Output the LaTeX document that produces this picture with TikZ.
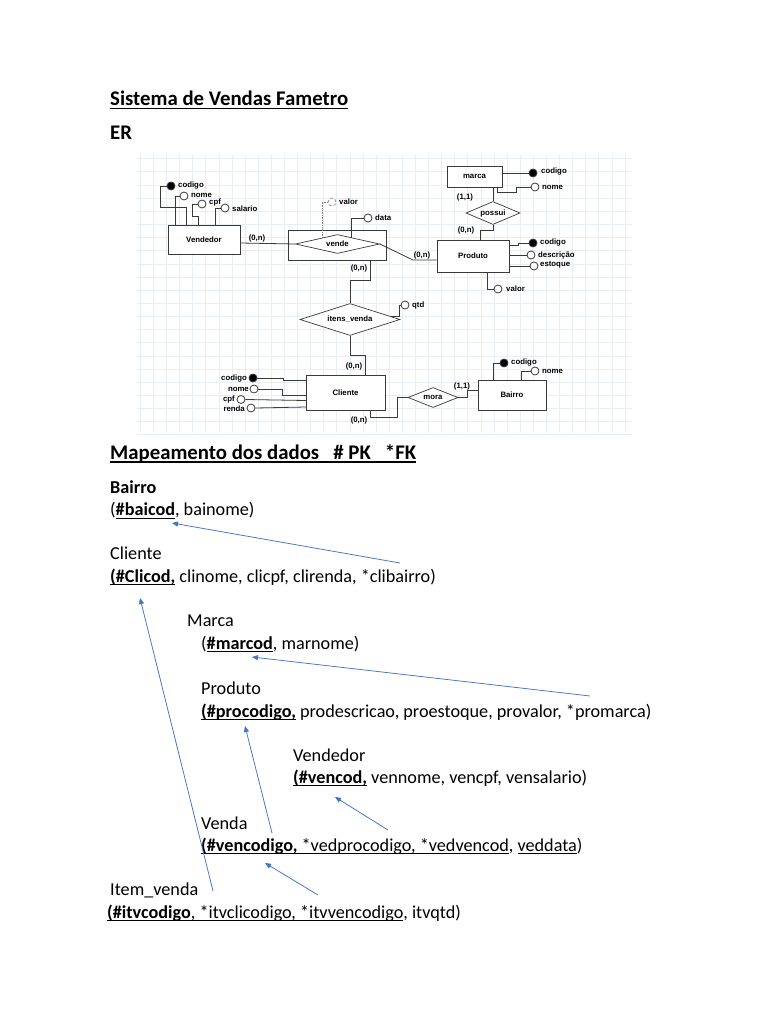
\documentclass[tikz,border=0pt]{standalone}
\usepackage{fontspec}
\setmainfont{Carlito}
\newfontfamily\erfont{Liberation Sans}
\newcommand\myul[1]{\mbox{\setbox0\hbox{#1}\rlap{\rule[-0.17em]{\wd0}{0.06em}}\box0}}
\usetikzlibrary{shapes.geometric,shadows,arrows.meta}
\definecolor{arrblue}{HTML}{4472C4}
\definecolor{erline}{HTML}{3A3A3A}
\definecolor{gridc}{HTML}{E9EEF4}
\begin{document}
\begin{tikzpicture}[x=1pt,y=-1pt,
  txt/.style={anchor=base west, inner sep=0, font=\fontsize{18.2}{21}\selectfont},
  head/.style={anchor=base west, inner sep=0, font=\fontsize{20.8}{24}\selectfont\bfseries},
  erfnt/.style={font=\erfont\bfseries\fontsize{7.8}{8}\selectfont},
  ent/.style={draw=erline, fill=white, line width=0.9pt, erfnt, inner sep=0,
    drop shadow={shadow xshift=1.2pt, shadow yshift=-1.2pt, fill=gray!80, opacity=1}},
  rel/.style={diamond, draw=erline, fill=white, line width=0.7pt, erfnt, inner sep=0},
  attr/.style={circle, draw=erline, fill=white, minimum size=8, inner sep=0, line width=0.8pt},
  keyattr/.style={attr, fill=black},
  alab/.style={erfnt, inner sep=0, anchor=west},
  alabr/.style={erfnt, inner sep=0, anchor=east},
  card/.style={erfnt, inner sep=0},
  erl/.style={draw=erline, line width=0.8pt},
  arr/.style={draw=arrblue, line width=0.75pt, -{Triangle[length=6pt,width=5pt]}}
]
\useasboundingbox (0,0) rectangle (768,1024);
\fill[white] (0,0) rectangle (768,1024);

% ---------- headings ----------
\node[head] (title) at (110,105.5) {\myul{Sistema de Vendas Fametro}};
\node[head] (er) at (110,140) {ER};

% ---------- ER diagram ----------
\foreach \k in {0,...,37} {\draw[gridc, line width=0.6pt] ({140.2+13.1*\k},155) -- ({140.2+13.1*\k},432);}
\foreach \k in {0,...,21} {\draw[gridc, line width=0.6pt] (137,{158.6+13.15*\k}) -- (632,{158.6+13.15*\k});}

% Vendedor
\node[ent, minimum width=72, minimum height=29] (vend) at (204,239.5) {Vendedor};
\node[keyattr] (vcod) at (171,186) {};
\node[alab] (vcodl) at (178,186) {codigo};
\node[attr] (vnom) at (184,196) {};
\node[alab] (vnoml) at (191,195) {nome};
\node[attr] (vcpf) at (202,204) {};
\node[alab] (vcpfl) at (209,202) {cpf};
\node[attr] (vsal) at (225,208) {};
\node[alab] (vsall) at (232,209) {salario};
\draw[erl] (vcod.west) -- (160,186) -- (160,207) -- (186,207) -- (186,225);
\draw[erl] (vnom.west) -- (175,196) -- (175,225);
\draw[erl] (vcpf.west) -- (192,204) -- (192,216) -- (198,216) -- (198,225);
\draw[erl] (vsal.west) -- (215,208) -- (215,225);

% vende (aggregation)
\node[draw=erline, fill=white, line width=0.9pt, minimum width=98, minimum height=30, inner sep=0,
  drop shadow={shadow xshift=1.2pt, shadow yshift=-1.2pt, fill=gray!80, opacity=1}] (vbox) at (337,245) {};
\node[rel, aspect=4.4, minimum width=84, minimum height=19] (vende) at (337.5,244) {vende};
\node[attr, densely dashed, draw=gray, line width=0.6pt] (vval) at (332,202) {};
\node[alab] (vvall) at (339,202) {valor};
\draw[gray, densely dotted, line width=0.7pt] (vval.west) -- (322,202) -- (322,237.5);
\node[attr] (vdat) at (368,218) {};
\node[alab] (vdatl) at (375,218) {data};
\draw[erl] (vdat.west) -- (351,218) -- (351,237.5);
\draw[erl] ([yshift=-3.5pt]vend.east) -- (vende.west);
\node[card] (c1) at (257,238) {(0,n)};

% Produto
\node[ent, minimum width=72, minimum height=32] (prod) at (473,256) {Produto};
\draw[erl] (vende.east) -- (413,260) -- ([yshift=-4pt]prod.west);
\node[card] (c2) at (422,255) {(0,n)};
\node[keyattr] (pcod) at (533,243) {};
\node[alab] (pcodl) at (540,243) {codigo};
\node[attr] (pdes) at (531,255) {};
\node[alab] (pdesl) at (538,255) {descrição};
\node[attr] (pest) at (534,266) {};
\node[alab] (pestl) at (540,265) {estoque};
\node[attr] (pval) at (498,289) {};
\node[alab] (pvall) at (506,289) {valor};
\draw[erl] (509,245) -- (518,245) -- (518,243) -- (pcod.west);
\draw[erl] (509,255) -- (pdes.west);
\draw[erl] (509,266) -- (pest.west);
\draw[erl] (487,272) -- (487,289) -- (pval.west);

% marca
\node[ent, minimum width=55, minimum height=21] (marca) at (474.5,176.5) {marca};
\node[keyattr] (mcod) at (533,173) {};
\node[alab] (mcodl) at (541,172) {codigo};
\node[attr] (mnom) at (535,187) {};
\node[alab] (mnoml) at (542,187) {nome};
\draw[erl] (502,173) -- (mcod.west);
\draw[erl] (497,187) -- (497,192) -- (516,192) -- (516,187) -- (mnom.west);
\node[rel, aspect=2.35, minimum width=54, minimum height=23] (possui) at (493,213) {possui};
\draw[erl] (493,187) -- (possui.north);
\node[card] (c3) at (465,197) {(1,1)};
\draw[erl] (possui.south) -- (493,230) -- (480,230) -- (480,240);
\node[card] (c4) at (466,230) {(0,n)};

% itens_venda
\node[rel, aspect=3.1, minimum width=100, minimum height=32] (itens) at (350,319.5) {itens\_venda};
\draw[erl] ([xshift=33pt]vbox.south) -- (370,280) -- (350,280) -- (itens.north);
\node[card] (c5) at (359,268) {(0,n)};
\node[attr] (qtd) at (405,305) {};
\node[alab] (qtdl) at (412,305) {qtd};
\draw[erl] (390,316.3) -- (399,316.3) -- (399,305) -- (qtd.west);

% Cliente
\node[ent, minimum width=79, minimum height=34.5] (cli) at (345.5,392.75) {Cliente};
\draw[erl] (itens.south) -- (350,355) -- (365,355) -- (365,375.5);
\node[card] (c6) at (354,366) {(0,n)};
\node[keyattr] (ccod) at (253,378) {};
\node[alabr] (ccodl) at (247,378) {codigo};
\node[attr] (cnom) at (254,389) {};
\node[alabr] (cnoml) at (249,389) {nome};
\node[attr] (ccpf) at (241,399.5) {};
\node[alabr] (ccpfl) at (235,399) {cpf};
\node[attr] (cren) at (251,408) {};
\node[alabr] (crenl) at (245,408.5) {renda};
\draw[erl] (ccod.east) -- (283,378) -- (283,380) -- (306,380);
\draw[erl] (cnom.east) -- (282,389) -- (282,395) -- (306,395);
\draw[erl] (ccpf.east) -- (306,400.5);
\draw[erl] (cren.east) -- (306,407);

% mora / Bairro
\node[rel, aspect=2.5, minimum width=50, minimum height=20] (mora) at (433,397.5) {mora};
\draw[erl] (370,410) -- (370,417.5) -- (397,417.5) -- (397,397.5) -- (mora.west);
\node[card] (c7) at (359,420) {(0,n)};
\node[ent, minimum width=68, minimum height=30] (bai) at (512,395) {Bairro};
\draw[erl] (mora.east) -- (467,397.5) -- (467,390.5) -- (bai.west |- 0,390.5);
\node[card] (c8) at (462,386) {(1,1)};
\node[keyattr] (bcod) at (504,363) {};
\node[alab] (bcodl) at (511,362) {codigo};
\node[attr] (bnom) at (535,371) {};
\node[alab] (bnoml) at (542,371) {nome};
\draw[erl] (bcod.west) -- (493,363) -- (493,380);
\draw[erl] (bnom.west) -- (521,371) -- (521,380);

% ---------- mapping ----------
\node[head] (map) at (110,459) {\myul{Mapeamento dos dados\ \ \ \# PK\ \ \ *FK}};

\node[txt, font=\fontsize{18.2}{21}\selectfont\bfseries] (tbai) at (110,493) {Bairro};
\node[txt] (rbai) at (110,515.5) {(\myul{\textbf{\#baicod}}, bainome)};

\node[txt] (tcli) at (110,559) {Cliente};
\node[txt] (rcli) at (110,582) {\myul{\textbf{(\#Clicod,}} clinome, clicpf, clirenda, *clibairro)};

\node[txt] (tmar) at (187,626) {Marca};
\node[txt] (rmar) at (201,649) {(\myul{\textbf{\#marcod}}, marnome)};

\node[txt] (tpro) at (201,694) {Produto};
\node[txt] (rpro) at (201,717) {\myul{\textbf{(\#procodigo,}} prodescricao, proestoque, provalor, *promarca)};

\node[txt] (tven) at (293,761) {Vendedor};
\node[txt] (rven) at (293,783) {\myul{\textbf{(\#vencod,}} vennome, vencpf, vensalario)};

\node[txt] (tvda) at (201,829) {Venda};
\node[txt] (rvda) at (201,851) {\myul{\textbf{(\#vencodigo,} *vedprocodigo, *vedvencod}, \myul{veddata})};

\node[txt] (titv) at (110,895) {Item\_venda};
\node[txt] (ritv) at (107,918) {\myul{\textbf{(\#itvcodigo}, *itvclicodigo, *itvvencodigo}, itvqtd)};

% arrows
\coordinate (a1t) at (400,563); \coordinate (a1h) at (172,523);
\coordinate (a2t) at (213,891); \coordinate (a2h) at (140,598);
\coordinate (a3t) at (590,696); \coordinate (a3h) at (252,657);
\coordinate (a4t) at (272,833); \coordinate (a4h) at (245,726);
\coordinate (a5t) at (388,830); \coordinate (a5h) at (335,797);
\coordinate (a6t) at (318,895); \coordinate (a6h) at (265,863);
\draw[arr] (a1t) -- (a1h);
\draw[arr] (a2t) -- (a2h);
\draw[arr] (a3t) -- (a3h);
\draw[arr] (a4t) -- (a4h);
\draw[arr] (a5t) -- (a5h);
\draw[arr] (a6t) -- (a6h);
\end{tikzpicture}
\end{document}
